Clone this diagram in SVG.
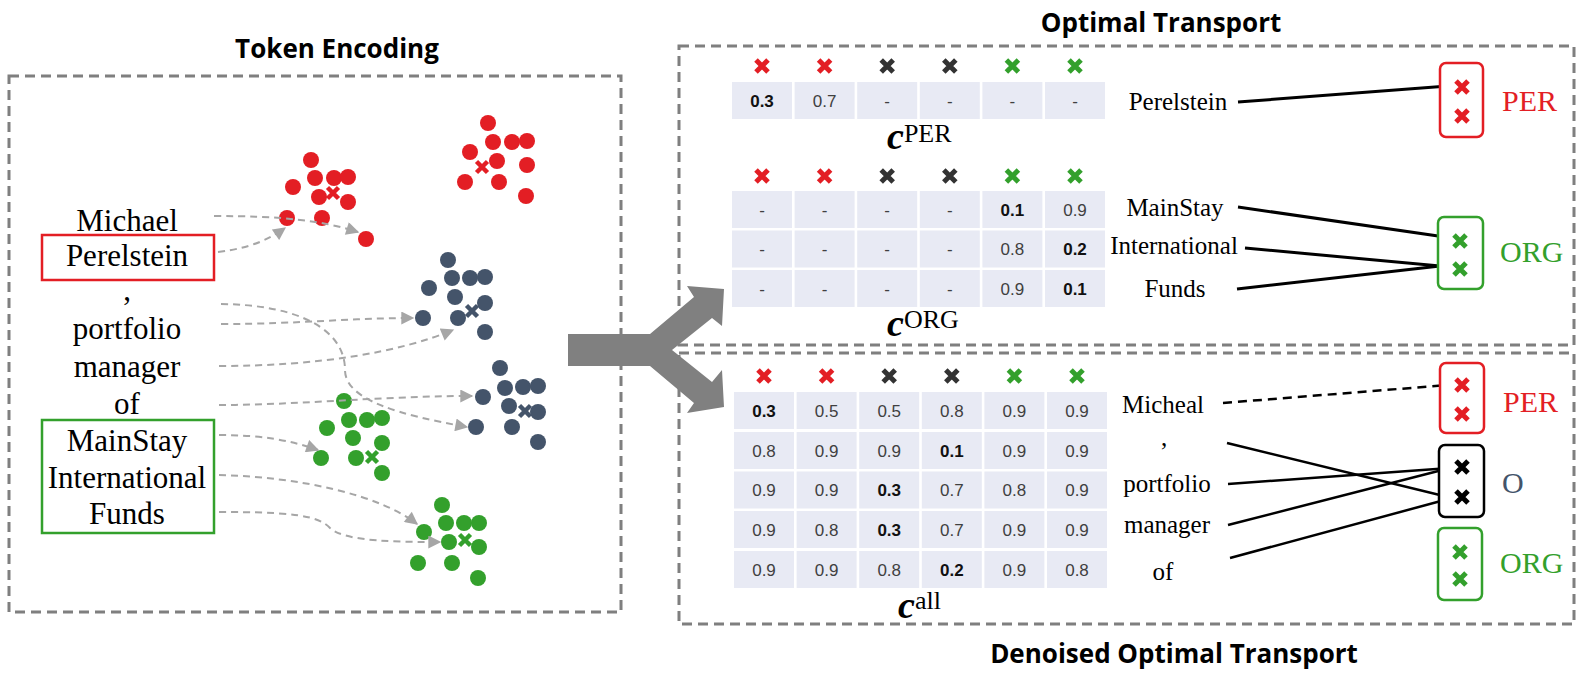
<svg xmlns="http://www.w3.org/2000/svg" xmlns:xlink="http://www.w3.org/1999/xlink" width="1581" height="676" viewBox="0 0 1581 676">
<style>
.title{font-family:"Open Sans","Liberation Sans",sans-serif;font-weight:700;font-size:26px;fill:#000;text-anchor:middle}
.panel{fill:none;stroke:#7f7f7f;stroke-width:3;stroke-dasharray:10 6}
.word{font-family:"Liberation Serif","Times New Roman",serif;font-size:31px;fill:#000;text-anchor:middle}
.rword{font-family:"Liberation Serif","Times New Roman",serif;font-size:25px;fill:#000;text-anchor:middle}
.lab{font-family:"Liberation Serif","Times New Roman",serif;font-size:30px}
.red{fill:#e31e24}.dark{fill:#44546a}.green{fill:#33a02c}
.xr{stroke:#e31e24}.xd{stroke:#333333}.xg{stroke:#33a02c}.xk{stroke:#000}.xn{stroke:#44546a}
.cell{fill:#e8eaf4}
.num{font-family:"Liberation Sans",Arial,sans-serif;font-size:17px;fill:#404040;text-anchor:middle}
.b{font-weight:700;fill:#111}
.conn{fill:none;stroke:#a6a6a6;stroke-width:2;stroke-dasharray:7 5}
.ot{fill:none;stroke:#000;stroke-width:3}
.ot2{fill:none;stroke:#000;stroke-width:2.5}
.cm{font-family:"Liberation Serif","Times New Roman",serif;font-weight:700;font-style:italic;font-size:38px;fill:#000}
.sup{font-family:"Liberation Serif","Times New Roman",serif;font-size:26px;fill:#000}
.box{fill:#fff;stroke-width:2.5}
</style>
<defs>
<path id="xm" d="M-6,-6 L6,6 M6,-6 L-6,6" stroke-width="5" fill="none"/>
<path id="xs" d="M-5.5,-5.5 L5.5,5.5 M5.5,-5.5 L-5.5,5.5" stroke-width="4.5" fill="none"/>
<marker id="ah" viewBox="0 0 10 10" refX="9" refY="5" markerUnits="userSpaceOnUse" markerWidth="14" markerHeight="13" orient="auto">
<path d="M0,0 L10,5 L0,10 z" fill="#a6a6a6"/>
</marker>
</defs>

<!-- titles -->
<text class="title" x="337" y="58">Token Encoding</text>
<text class="title" x="1161" y="32">Optimal Transport</text>
<text class="title" x="1174" y="663">Denoised Optimal Transport</text>

<!-- panels -->
<rect class="panel" x="9" y="76" width="612" height="536"/>
<rect class="panel" x="679" y="46" width="895" height="299"/>
<rect class="panel" x="679" y="353" width="895" height="271"/>

<!-- big split arrow -->
<polygon id="split-arrow" fill="#808080" points="568,334 650,334 694,297 687,286 724,289 722,326 712,318 672,350 712,382 722,370 724,407 687,413 694,403 650,366 568,366"/>

<!-- left tokens -->
<g id="tokens-left">
<text class="word" x="127" y="231">Michael</text>
<g id="per-entity-left"><rect x="42" y="235" width="172" height="45" fill="none" stroke="#e31e24" stroke-width="2.5"/>
<text class="word" x="127" y="266">Perelstein</text></g>
<text class="word" x="127" y="300">,</text>
<text class="word" x="127" y="339">portfolio</text>
<text class="word" x="127" y="377">manager</text>
<text class="word" x="127" y="414">of</text>
<g id="org-entity-left"><rect x="42" y="420" width="172" height="113" fill="none" stroke="#33a02c" stroke-width="2.5"/>
<text class="word" x="127" y="451">MainStay</text>
<text class="word" x="127" y="488">International</text>
<text class="word" x="127" y="524">Funds</text></g>
</g>

<!-- clusters -->
<g id="cluster-per-1" class="red">
<circle cx="311" cy="160" r="8"/><circle cx="293" cy="187" r="8"/><circle cx="315" cy="178" r="8"/><circle cx="334" cy="178" r="8"/><circle cx="348" cy="177" r="8"/><circle cx="319" cy="197" r="8"/><circle cx="348" cy="202" r="8"/><circle cx="287" cy="218" r="8"/><circle cx="322" cy="218" r="8"/><circle cx="366" cy="239" r="8"/>
<use href="#xs" x="333" y="193" class="xr"/>
</g>
<g id="cluster-per-2" class="red">
<circle cx="488" cy="123" r="8"/><circle cx="470" cy="152" r="8"/><circle cx="493" cy="142" r="8"/><circle cx="512" cy="142" r="8"/><circle cx="527" cy="141" r="8"/><circle cx="497" cy="161" r="8"/><circle cx="527" cy="165" r="8"/><circle cx="465" cy="182" r="8"/><circle cx="499" cy="182" r="8"/><circle cx="526" cy="196" r="8"/>
<use href="#xs" x="482" y="167" class="xr"/>
</g>
<g id="cluster-o-1" class="dark">
<circle cx="448" cy="260" r="8"/><circle cx="429" cy="288" r="8"/><circle cx="452" cy="278" r="8"/><circle cx="470" cy="278" r="8"/><circle cx="485" cy="277" r="8"/><circle cx="455" cy="297" r="8"/><circle cx="485" cy="303" r="8"/><circle cx="423" cy="318" r="8"/><circle cx="458" cy="318" r="8"/><circle cx="485" cy="332" r="8"/>
<use href="#xs" x="472" y="311" class="xn"/>
</g>
<g id="cluster-o-2" class="dark">
<circle cx="500" cy="368" r="8"/><circle cx="483" cy="397" r="8"/><circle cx="505" cy="388" r="8"/><circle cx="523" cy="387" r="8"/><circle cx="538" cy="386" r="8"/><circle cx="509" cy="406" r="8"/><circle cx="538" cy="412" r="8"/><circle cx="476" cy="427" r="8"/><circle cx="512" cy="427" r="8"/><circle cx="538" cy="442" r="8"/>
<use href="#xs" x="525" y="411" class="xn"/>
</g>
<g id="cluster-org-1" class="green">
<circle cx="344" cy="401" r="8"/><circle cx="327" cy="428" r="8"/><circle cx="349" cy="420" r="8"/><circle cx="367" cy="420" r="8"/><circle cx="382" cy="418" r="8"/><circle cx="353" cy="438" r="8"/><circle cx="382" cy="443" r="8"/><circle cx="321" cy="458" r="8"/><circle cx="356" cy="458" r="8"/><circle cx="382" cy="473" r="8"/>
<use href="#xs" x="372" y="457" class="xg"/>
</g>
<g id="cluster-org-2" class="green">
<circle cx="442" cy="505" r="8"/><circle cx="424" cy="532" r="8"/><circle cx="446" cy="523" r="8"/><circle cx="464" cy="523" r="8"/><circle cx="479" cy="523" r="8"/><circle cx="449" cy="542" r="8"/><circle cx="479" cy="547" r="8"/><circle cx="418" cy="563" r="8"/><circle cx="452" cy="563" r="8"/><circle cx="478" cy="578" r="8"/>
<use href="#xs" x="465" y="540" class="xg"/>
</g>

<!-- connectors -->
<g id="connectors">
<g id="encode-arrows" marker-end="url(#ah)">
<path class="conn" d="M214,216 C280,216 320,220 358,232"/>
<path class="conn" d="M218,252 C250,248 268,240 285,228"/>
<path class="conn" d="M221,304 C300,305 345,330 345,370 C345,400 400,415 467,427"/>
<path class="conn" d="M221,324 C300,324 350,318 413,318"/>
<path class="conn" d="M219,366 C320,366 400,352 453,330"/>
<path class="conn" d="M219,405 C300,405 380,396 472,396"/>
<path class="conn" d="M219,435 C260,435 290,440 318,450"/>
<path class="conn" d="M219,475 C300,477 380,495 417,524"/>
<path class="conn" d="M219,512 C290,512 318,515 330,528 C345,542 400,542 440,542"/>
</g>
<g id="ot-lines">
<line class="ot" x1="1238" y1="102" x2="1448" y2="86"/>
<line class="ot" x1="1238" y1="207" x2="1445" y2="237"/>
<line class="ot" x1="1245" y1="248" x2="1440" y2="266"/>
<line class="ot" x1="1237" y1="289" x2="1440" y2="266"/>
</g>
<g id="dot-lines">
<line class="ot2" x1="1223" y1="403" x2="1448" y2="385" stroke-dasharray="9 6"/>
<line class="ot2" x1="1227" y1="443" x2="1452" y2="498"/>
<line class="ot2" x1="1228" y1="484" x2="1450" y2="468"/>
<line class="ot2" x1="1228" y1="525" x2="1450" y2="468"/>
<line class="ot2" x1="1230" y1="558" x2="1452" y2="498"/>
</g>
</g>

<!-- cost table PER -->
<g id="table-per">
<use href="#xm" x="762" y="66" class="xr"/><use href="#xm" x="824.6" y="66" class="xr"/><use href="#xm" x="887.2" y="66" class="xd"/><use href="#xm" x="949.8" y="66" class="xd"/><use href="#xm" x="1012.4" y="66" class="xg"/><use href="#xm" x="1075" y="66" class="xg"/>
<rect class="cell" x="732" y="82" width="60" height="37"/><rect class="cell" x="794.6" y="82" width="60" height="37"/><rect class="cell" x="857.2" y="82" width="60" height="37"/><rect class="cell" x="919.8" y="82" width="60" height="37"/><rect class="cell" x="982.4" y="82" width="60" height="37"/><rect class="cell" x="1045" y="82" width="60" height="37"/>
<text class="num b" x="762" y="107">0.3</text><text class="num" x="824.6" y="107">0.7</text><text class="num" x="887.2" y="107">-</text><text class="num" x="949.8" y="107">-</text><text class="num" x="1012.4" y="107">-</text><text class="num" x="1075" y="107">-</text>
<text x="887" y="149"><tspan class="cm">c</tspan><tspan class="sup" dy="-7">PER</tspan></text>
</g>

<!-- cost table ORG -->
<g id="table-org">
<use href="#xm" x="762" y="176" class="xr"/><use href="#xm" x="824.6" y="176" class="xr"/><use href="#xm" x="887.2" y="176" class="xd"/><use href="#xm" x="949.8" y="176" class="xd"/><use href="#xm" x="1012.4" y="176" class="xg"/><use href="#xm" x="1075" y="176" class="xg"/>
<g class="cell">
<rect x="732" y="191" width="60" height="37"/><rect x="794.6" y="191" width="60" height="37"/><rect x="857.2" y="191" width="60" height="37"/><rect x="919.8" y="191" width="60" height="37"/><rect x="982.4" y="191" width="60" height="37"/><rect x="1045" y="191" width="60" height="37"/>
<rect x="732" y="230.5" width="60" height="37"/><rect x="794.6" y="230.5" width="60" height="37"/><rect x="857.2" y="230.5" width="60" height="37"/><rect x="919.8" y="230.5" width="60" height="37"/><rect x="982.4" y="230.5" width="60" height="37"/><rect x="1045" y="230.5" width="60" height="37"/>
<rect x="732" y="270" width="60" height="37"/><rect x="794.6" y="270" width="60" height="37"/><rect x="857.2" y="270" width="60" height="37"/><rect x="919.8" y="270" width="60" height="37"/><rect x="982.4" y="270" width="60" height="37"/><rect x="1045" y="270" width="60" height="37"/>
</g>
<text class="num" x="762" y="216">-</text><text class="num" x="824.6" y="216">-</text><text class="num" x="887.2" y="216">-</text><text class="num" x="949.8" y="216">-</text><text class="num b" x="1012.4" y="216">0.1</text><text class="num" x="1075" y="216">0.9</text>
<text class="num" x="762" y="255">-</text><text class="num" x="824.6" y="255">-</text><text class="num" x="887.2" y="255">-</text><text class="num" x="949.8" y="255">-</text><text class="num" x="1012.4" y="255">0.8</text><text class="num b" x="1075" y="255">0.2</text>
<text class="num" x="762" y="295">-</text><text class="num" x="824.6" y="295">-</text><text class="num" x="887.2" y="295">-</text><text class="num" x="949.8" y="295">-</text><text class="num" x="1012.4" y="295">0.9</text><text class="num b" x="1075" y="295">0.1</text>
<text x="887" y="336"><tspan class="cm">c</tspan><tspan class="sup" dy="-8">ORG</tspan></text>
</g>

<!-- OT top right -->
<g id="words-top">
<text class="rword" x="1178" y="110">Perelstein</text>
<text class="rword" x="1175" y="216">MainStay</text>
<text class="rword" x="1174" y="254">International</text>
<text class="rword" x="1175" y="297">Funds</text>
</g>
<g id="per-box-top">
<rect class="box" x="1440" y="63" width="43" height="74" rx="6" stroke="#e31e24"/>
<use href="#xm" x="1462" y="87" class="xr"/><use href="#xm" x="1462" y="116" class="xr"/>
<text class="lab red" x="1502" y="111">PER</text>
</g>
<g id="org-box-top">
<rect class="box" x="1438" y="217" width="45" height="72" rx="6" stroke="#33a02c"/>
<use href="#xm" x="1460" y="241" class="xg"/><use href="#xm" x="1460" y="269" class="xg"/>
<text class="lab green" x="1500" y="262">ORG</text>
</g>

<!-- cost table all -->
<g id="table-all">
<use href="#xm" x="764" y="376" class="xr"/><use href="#xm" x="826.6" y="376" class="xr"/><use href="#xm" x="889.2" y="376" class="xd"/><use href="#xm" x="951.8" y="376" class="xd"/><use href="#xm" x="1014.4" y="376" class="xg"/><use href="#xm" x="1077" y="376" class="xg"/>
<g class="cell">
<rect x="734" y="392" width="60" height="37"/><rect x="796.6" y="392" width="60" height="37"/><rect x="859.2" y="392" width="60" height="37"/><rect x="921.8" y="392" width="60" height="37"/><rect x="984.4" y="392" width="60" height="37"/><rect x="1047" y="392" width="60" height="37"/>
<rect x="734" y="432" width="60" height="37"/><rect x="796.6" y="432" width="60" height="37"/><rect x="859.2" y="432" width="60" height="37"/><rect x="921.8" y="432" width="60" height="37"/><rect x="984.4" y="432" width="60" height="37"/><rect x="1047" y="432" width="60" height="37"/>
<rect x="734" y="471.5" width="60" height="37"/><rect x="796.6" y="471.5" width="60" height="37"/><rect x="859.2" y="471.5" width="60" height="37"/><rect x="921.8" y="471.5" width="60" height="37"/><rect x="984.4" y="471.5" width="60" height="37"/><rect x="1047" y="471.5" width="60" height="37"/>
<rect x="734" y="511" width="60" height="37"/><rect x="796.6" y="511" width="60" height="37"/><rect x="859.2" y="511" width="60" height="37"/><rect x="921.8" y="511" width="60" height="37"/><rect x="984.4" y="511" width="60" height="37"/><rect x="1047" y="511" width="60" height="37"/>
<rect x="734" y="551" width="60" height="37"/><rect x="796.6" y="551" width="60" height="37"/><rect x="859.2" y="551" width="60" height="37"/><rect x="921.8" y="551" width="60" height="37"/><rect x="984.4" y="551" width="60" height="37"/><rect x="1047" y="551" width="60" height="37"/>
</g>
<text class="num b" x="764" y="417">0.3</text><text class="num" x="826.6" y="417">0.5</text><text class="num" x="889.2" y="417">0.5</text><text class="num" x="951.8" y="417">0.8</text><text class="num" x="1014.4" y="417">0.9</text><text class="num" x="1077" y="417">0.9</text>
<text class="num" x="764" y="457">0.8</text><text class="num" x="826.6" y="457">0.9</text><text class="num" x="889.2" y="457">0.9</text><text class="num b" x="951.8" y="457">0.1</text><text class="num" x="1014.4" y="457">0.9</text><text class="num" x="1077" y="457">0.9</text>
<text class="num" x="764" y="496">0.9</text><text class="num" x="826.6" y="496">0.9</text><text class="num b" x="889.2" y="496">0.3</text><text class="num" x="951.8" y="496">0.7</text><text class="num" x="1014.4" y="496">0.8</text><text class="num" x="1077" y="496">0.9</text>
<text class="num" x="764" y="536">0.9</text><text class="num" x="826.6" y="536">0.8</text><text class="num b" x="889.2" y="536">0.3</text><text class="num" x="951.8" y="536">0.7</text><text class="num" x="1014.4" y="536">0.9</text><text class="num" x="1077" y="536">0.9</text>
<text class="num" x="764" y="576">0.9</text><text class="num" x="826.6" y="576">0.9</text><text class="num" x="889.2" y="576">0.8</text><text class="num b" x="951.8" y="576">0.2</text><text class="num" x="1014.4" y="576">0.9</text><text class="num" x="1077" y="576">0.8</text>
<text x="898" y="618"><tspan class="cm">c</tspan><tspan class="sup" dy="-9">all</tspan></text>
</g>

<!-- DOT bottom right -->
<g id="words-bottom">
<text class="rword" x="1163" y="413">Micheal</text>
<text class="rword" x="1164" y="446">,</text>
<text class="rword" x="1167" y="492">portfolio</text>
<text class="rword" x="1167" y="533">manager</text>
<text class="rword" x="1163" y="580">of</text>
</g>
<g id="per-box-bottom">
<rect class="box" x="1440" y="363" width="44" height="70" rx="6" stroke="#e31e24"/>
<use href="#xm" x="1462" y="385" class="xr"/><use href="#xm" x="1462" y="414" class="xr"/>
<text class="lab red" x="1503" y="412">PER</text>
</g>
<g id="o-box-bottom">
<rect class="box" x="1439" y="445" width="45" height="72" rx="6" stroke="#000"/>
<use href="#xm" x="1462" y="467" class="xk"/><use href="#xm" x="1462" y="497" class="xk"/>
<text class="lab dark" x="1502" y="493">O</text>
</g>
<g id="org-box-bottom">
<rect class="box" x="1438" y="528" width="44" height="72" rx="6" stroke="#33a02c"/>
<use href="#xm" x="1460" y="552" class="xg"/><use href="#xm" x="1460" y="579" class="xg"/>
<text class="lab green" x="1500" y="573">ORG</text>
</g>
</svg>
